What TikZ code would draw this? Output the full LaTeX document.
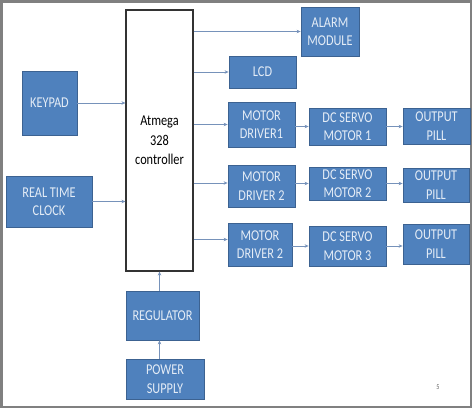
\documentclass[tikz,border=0pt]{standalone}
\usepackage{fontspec}
\setmainfont{Carlito}[FakeStretch=0.82]
\usepackage{tikz}
\usetikzlibrary{arrows.meta, positioning, calc}
\definecolor{blockblue}{RGB}{79,129,189}
\definecolor{blockedge}{RGB}{60,98,145}
\definecolor{blocktext}{RGB}{228,236,246}
\definecolor{linkblue}{RGB}{118,146,186}
\definecolor{framegray}{RGB}{128,128,128}

\begin{document}
\begin{tikzpicture}[
    x=1pt, y=-1pt,
    block/.style={rectangle, draw=blockedge, line width=0.8pt, fill=blockblue,
                  text=blocktext, align=center, inner sep=1pt,
                  font=\fontsize{15}{18.5}\selectfont},
    arrow/.style={-{Stealth[length=4pt, width=3.5pt]}, line width=0.9pt, linkblue}
]
    % Frame
    \useasboundingbox (0,0) rectangle (474,409);
    \draw[framegray, line width=2.5pt] (1.5,1.5) rectangle (471,407);

    % Nodes
    \node[rectangle, draw=black!80, line width=1.1pt, fill=white, minimum width=67, minimum height=261,
          align=center, font=\fontsize{15}{19.5}\selectfont] (ctrl) at (159.5,140.5) {Atmega\\328\\controller};
    \node[block, minimum width=55, minimum height=64] (keypad) at (49.5,103) {KEYPAD};
    \node[block, minimum width=86, minimum height=51] (rtc) at (49,201.5) {REAL TIME\\CLOCK};
    \node[block, minimum width=58, minimum height=49] (alarm) at (330,31.5) {ALARM\\MODULE};
    \node[block, minimum width=67, minimum height=32] (lcd) at (262.5,72) {LCD};
    \node[block, minimum width=67, minimum height=45] (drvone) at (261.5,124.5) {MOTOR\\DRIVER1};
    \node[block, minimum width=77, minimum height=37] (servoone) at (347.5,126.5) {DC SERVO\\MOTOR 1};
    \node[block, minimum width=67, minimum height=36] (pillone) at (436.5,126) {OUTPUT\\PILL};
    \node[block, minimum width=67, minimum height=42] (drvtwo) at (261.5,186) {MOTOR\\DRIVER 2};
    \node[block, minimum width=77, minimum height=33] (servotwo) at (347.5,183.5) {DC SERVO\\MOTOR 2};
    \node[block, minimum width=66, minimum height=34] (pilltwo) at (436,185) {OUTPUT\\PILL};
    \node[block, minimum width=64, minimum height=43] (drvthree) at (260,244.5) {MOTOR\\DRIVER 2};
    \node[block, minimum width=77, minimum height=40] (servothree) at (347.5,246) {DC SERVO\\MOTOR 3};
    \node[block, minimum width=66, minimum height=40] (pillthree) at (436,244) {OUTPUT\\PILL};
    \node[block, minimum width=73, minimum height=49] (reg) at (162.5,315.5) {REGULATOR};
    \node[block, minimum width=78, minimum height=40] (power) at (165,379) {POWER\\SUPPLY};
    \node[text=black!60, font=\fontsize{7.5}{8}\selectfont] (page) at (438,387) {5};

    % Arrows
    \draw[arrow] (keypad) -- (keypad -| ctrl.west);
    \draw[arrow] (rtc) -- (rtc -| ctrl.west);
    \draw[arrow] (alarm -| ctrl.east) -- (alarm);
    \draw[arrow] (lcd -| ctrl.east) -- (lcd);
    \draw[arrow] (drvone -| ctrl.east) -- (drvone);
    \draw[arrow] ($(drvtwo.west -| ctrl.east)+(0,-3)$) -- ($(drvtwo.west)+(0,-3)$);
    \draw[arrow] ($(drvthree.west -| ctrl.east)+(0,-5)$) -- ($(drvthree.west)+(0,-5)$);
    \draw[arrow] (drvone.east |- servoone) -- (servoone);
    \draw[arrow] (servoone) -- (servoone -| pillone.west);
    \draw[arrow] (drvtwo.east |- servotwo) -- (servotwo);
    \draw[arrow] (servotwo) -- (servotwo -| pilltwo.west);
    \draw[arrow] (drvthree.east |- servothree) -- (servothree);
    \draw[arrow] (servothree) -- (servothree -| pillthree.west);
    \draw[arrow] (power.north -| ctrl) -- (reg.south -| ctrl);
    \draw[arrow] (reg.north -| ctrl) -- (ctrl);
\end{tikzpicture}
\end{document}
